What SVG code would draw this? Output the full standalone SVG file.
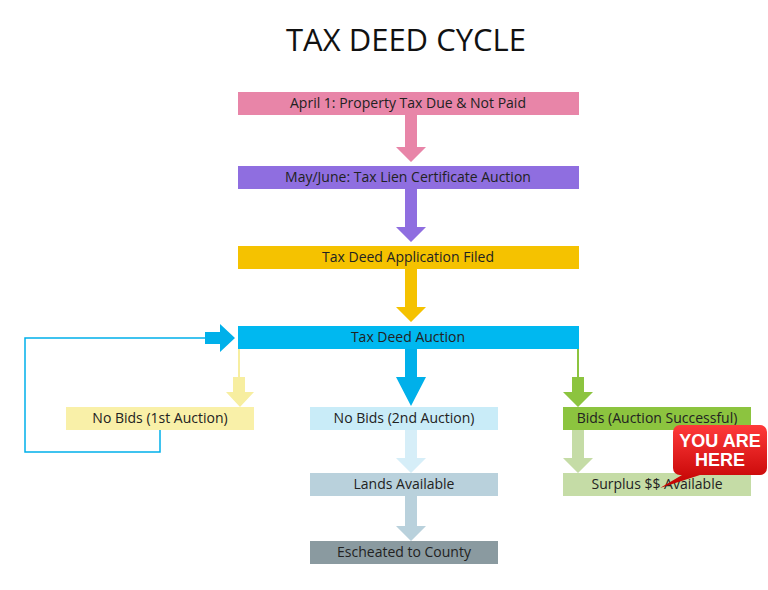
<svg xmlns="http://www.w3.org/2000/svg" width="768" height="590" viewBox="0 0 768 590">
<defs>
<style>
text{font-family:"Open Sans","Noto Sans",sans-serif;font-size:14px;fill:#222;text-anchor:middle}
.t{font-size:31px;fill:#111}
.y{font-family:"Liberation Sans",sans-serif;font-weight:bold;font-size:18px;fill:#fff}
</style>
<linearGradient id="rg" x1="0" y1="0" x2="0" y2="1"><stop offset="0" stop-color="#ff3a3a"/><stop offset="1" stop-color="#c00000"/></linearGradient>
</defs>
<rect width="768" height="590" fill="#fff"/>
<text class="t" x="406" y="51">TAX DEED CYCLE</text>
<g id="connectors">
<path d="M405 115h12v32h9l-15 15-15-15h9z" fill="#e885a8"/>
<path d="M405 189h12v38h9l-15 15-15-15h9z" fill="#8f6ee0"/>
<path d="M405 269h12v38h9l-15 15-15-15h9z" fill="#f5c200"/>
<path d="M239 349v28" stroke="#f7eea0" stroke-width="2"/>
<path d="M233 377h12v15h9l-14 15-14-15h7z" fill="#f7eea0"/>
<path d="M405 349h12v28h9l-15 29-15-29h9z" fill="#00b0ea"/>
<path d="M578 349v28" stroke="#8cc43f" stroke-width="2"/>
<path d="M572 377h12v15h9l-15 15-15-15h9z" fill="#8cc43f"/>
<path d="M405 430h12v28h9l-15 15-15-15h9z" fill="#d6eef8"/>
<path d="M572 430h12v28h9l-15 15-15-15h9z" fill="#c5dca6"/>
<path d="M405 496h12v30h9l-15 15-15-15h9z" fill="#b9d1dc"/>
<path d="M160 430v22H25V338h180" fill="none" stroke="#00b0ea" stroke-width="1.5"/>
<path d="M205 332h15v-8l15 14-15 14v-8h-15z" fill="#00b0ea"/>
</g>
<g id="n1"><rect x="238" y="92" width="341" height="23" fill="#e885a8"/><text x="408" y="108">April 1: Property Tax Due &amp; Not Paid</text></g>
<g id="n2"><rect x="238" y="166" width="341" height="23" fill="#8f6ee0"/><text x="408" y="182">May/June: Tax Lien Certificate Auction</text></g>
<g id="n3"><rect x="238" y="246" width="341" height="23" fill="#f5c200"/><text x="408" y="262">Tax Deed Application Filed</text></g>
<g id="n4"><rect x="238" y="326" width="341" height="23" fill="#00b8f0"/><text x="408" y="342">Tax Deed Auction</text></g>
<g id="n5"><rect x="66" y="407" width="188" height="23" fill="#f9f0a8"/><text x="160" y="423">No Bids (1st Auction)</text></g>
<g id="n6"><rect x="310" y="407" width="188" height="23" fill="#c9ecf8"/><text x="404" y="423">No Bids (2nd Auction)</text></g>
<g id="n7"><rect x="563" y="407" width="188" height="23" fill="#8cc43f"/><text x="657" y="423">Bids (Auction Successful)</text></g>
<g id="n8"><rect x="310" y="473" width="188" height="23" fill="#b9d1dc"/><text x="404" y="489">Lands Available</text></g>
<g id="n9"><rect x="563" y="473" width="188" height="23" fill="#c5dca6"/><text x="657" y="489">Surplus $$ Available</text></g>
<g id="n10"><rect x="310" y="541" width="188" height="23" fill="#8a9aa0"/><text x="404" y="557">Escheated to County</text></g>
<g id="callout">
<path d="M680 425h80a7 7 0 0 1 7 7v36a7 7 0 0 1-7 7h-60l-40 13 22-13h-2a7 7 0 0 1-7-7v-36a7 7 0 0 1 7-7z" fill="url(#rg)"/>
<text class="y" x="720" y="447">YOU ARE</text>
<text class="y" x="720" y="466">HERE</text>
</g>
</svg>
